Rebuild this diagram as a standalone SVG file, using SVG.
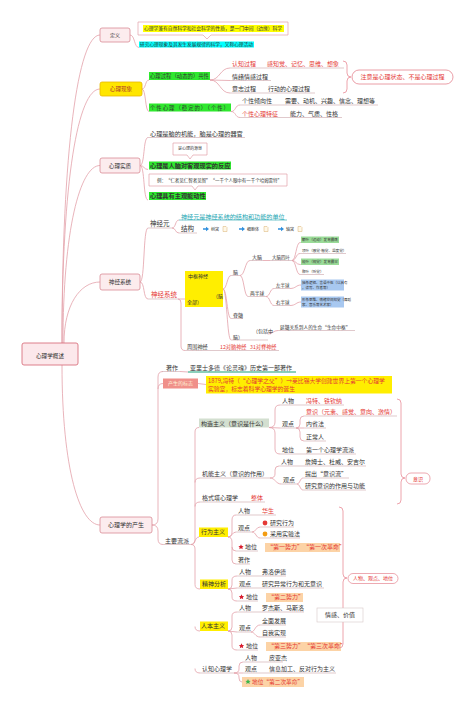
<svg xmlns="http://www.w3.org/2000/svg" width="474" height="708" viewBox="0 0 474 708">
<style>
text{font-family:"Noto Sans CJK SC","Noto Sans",sans-serif;fill:#333;}
.c{fill:none;stroke:#e3a1a9;stroke-width:0.8}
.u{fill:none;stroke:#d3b2b6;stroke-width:0.7}
.box{fill:#fcecee;stroke:#d98a94;stroke-width:0.8}
.red{fill:#e53935}
.f6{font-size:6px}
.f5{font-size:5px}
.f4{font-size:4px}
.hy{fill:#ffee00}
.hg{fill:#2ee82e}
.hl{fill:#9adb98}
.hb{fill:#a8c8f0}
.ho{fill:#fcd3a6}
.br{fill:none;stroke:#e88d98;stroke-width:0.8}
.callout{fill:#fff;stroke:#e3a1a9;stroke-width:0.7}
.arr{fill:#2f8fdd}
.doc{fill:#fff8e8;stroke:#d8b070;stroke-width:0.5}
</style>
<rect width="474" height="708" fill="#fff"/>

<g id="connectors">
<path class="c" d="M62 343C62 150 78 35 100 35"/>
<path class="c" d="M62 343C62 180 78 89 100 89"/>
<path class="c" d="M63 343C63 230 80 165.5 100 165.5"/>
<path class="c" d="M64 343C64 305 80 282 100 282"/>
<path class="c" d="M62 365C62 470 80 525 100 525"/>
<path class="c" d="M130 35C135 35 134 47.5 139 47.5"/>
<path class="c" d="M142 89C146 89 145 80 149 80M142 89C146 89 145 111.5 149 111.5"/>
<path class="c" d="M210 80C220 80 220 68 230 68M210 80L230 80.5M210 80C220 80 220 93 230 93"/>
<path class="c" d="M231 111.5C236 111.5 235 105 240 105M231 111.5C236 111.5 235 117.5 240 117.5"/>
<path class="c" d="M140 165.5C145 165.5 143 137.5 148 137.5M140 165.5C144 165.5 144 169.5 148 169.5M140 165.5C145 165.5 143 200 148 200"/>
<path class="c" d="M140 282C145 282 143 228 148 228M140 282C145 282 143 299 148 299"/>
<path class="c" d="M172 228C176 228 175 220 179 220M172 228C176 228 175 233 179 233"/>
<path class="c" d="M178 299L185 299M178 299Q181 299 181 303L181 346Q181 350.5 185 350.5"/>
<path class="c" d="M223 289C227 289 227 275.5 231 275.5M223 289C227 289 227 318.5 231 318.5M223 289C227 289 227 340 231 340"/>
<path class="c" d="M240 275.5C245 275.5 245 260.5 250 260.5M240 275.5C244 275.5 244 296.5 248 296.5M263 260.5L270 260.5"/>
<path class="c" d="M292 260.5C296 260.5 296 242.5 300 242.5M292 260.5C296 260.5 296 253.5 300 253.5M292 260.5C296 260.5 296 264.5 300 264.5M292 260.5C296 260.5 296 274.5 300 274.5"/>
<path class="c" d="M266 296.5C270 296.5 270 288.5 274 288.5M266 296.5C270 296.5 270 305.5 274 305.5M290 288.5C296 288.5 296 285 301 285M290 305.5C296 305.5 296 302 301 302"/>
<path class="c" d="M268 334C273 334 273 330.5 278 330.5"/>
<path class="c" d="M152 525Q158 525 158 519L158 377Q158 371.5 163 371.5M158 389Q158 383.5 163 383.5M152 525Q158 525 158 531L158 539Q158 544.5 163 544.5M180 371.5L188 372M198 383.5L206 384.5"/>
<path class="c" d="M191 544.5Q195 544.5 195 540L195 432Q195 427.5 199 427.5M195 482.5Q195 478 200 478M195 506.5Q195 502 200 502M191 544.5C195 544.5 195 537 199 537M191 544.5Q195 544.5 195 549L195 584.5Q195 589 200 589M195 626.5Q195 631 200 631M195 668.5Q195 673 200 673"/>
<path class="c" d="M269 427.5Q275 427.5 275 422L275 410Q275 405 280 405M269 427.5L280 428M269 427.5Q275 427.5 275 433L275 449Q275 454 280 454"/>
<path class="c" d="M296 428Q300 428 300 424L300 420Q300 416 304 416M296 428L304 428M296 428Q300 428 300 432L300 437Q300 441 304 441"/>
<path class="c" d="M270 478Q275 478 275 474L275 470Q275 466 279 466M270 478C275 478 276 484 281 484M297 484C300 484 300 478 303 478M297 484C300 484 300 490 303 490"/>
<path class="c" d="M228 537Q232 537 232 532L232 520Q232 515 236 515M228 537C232 537 232 532 236 532M228 537Q232 537 232 542L232 547Q232 551 236 551M232 547L232 560Q232 564 236 564M252 532C256 532 256 527 260 527M252 532C256 532 256 538 260 538"/>
<path class="c" d="M228 589Q232 589 232 585L232 580Q232 576 237 576M228 589L237 588M228 589Q232 589 232 593L232 597Q232 601 237 601"/>
<path class="c" d="M228 631Q232 631 232 627L232 616Q232 612 237 612M228 631L237 632M228 631Q232 631 232 635L232 646Q232 650 237 650M251 632C255 632 255 625 260 625M251 632C255 632 255 637 260 637"/>
<path class="c" d="M234 673Q239 673 239 669L239 666Q239 662 243 662M234 673L243 673M234 673Q239 673 239 677L239 678Q239 682 242 682"/>
</g>

<g id="root">
<rect x="22" y="343" width="56" height="22" rx="2" fill="#fce8eb" stroke="#d9737f" stroke-width="0.9"/>
<text x="50" y="357.5" font-size="5.6" text-anchor="middle">心理学概述</text>
</g>

<g id="n-dingyi">
<rect x="100" y="28" width="30" height="14" rx="2" class="box"/>
<text x="115" y="36.8" class="f5" text-anchor="middle">定义</text>
<path class="callout" d="M138 22H288V35H211L207 39L203 35H138Z"/>
<rect x="143" y="25" width="141" height="7" fill="#ffff00"/>
<text x="144" y="30.3" class="f5" textLength="138" lengthAdjust="spacingAndGlyphs">心理学兼有自然科学和社会科学的性质，是一门中间（边缘）科学</text>
<rect x="139" y="41.5" width="115" height="6" fill="#00ffff"/>
<text x="140" y="46.3" font-size="4.8" textLength="113" lengthAdjust="spacingAndGlyphs">研究心理现象及其发生发展规律的科学，又称心理活动</text>
</g>

<g id="n-xianxiang">
<rect x="100" y="82" width="42" height="14" rx="2" fill="#ffe600" stroke="#e8b800" stroke-width="0.8"/>
<text x="121" y="91" font-size="5.6" text-anchor="middle" style="fill:#b03a2e">心理现象</text>
<rect x="149" y="72" width="61" height="8" class="hg"/>
<text x="150" y="77.9" font-size="5.4" textLength="59" lengthAdjust="spacingAndGlyphs">心理过程（动态的）共性</text>
<rect x="149" y="103.5" width="82" height="8" class="hg"/>
<text x="150" y="109.5" font-size="5.4" textLength="79">个性心理（稳定的）（个性）</text>
<path class="u" d="M230 68H344M230 80.5H271M230 93H315M240 105H378M240 117.5H342"/>
<text x="232" y="66.1" class="f6 red">认知过程</text>
<text x="267" y="66.1" class="f6 red">感知觉、记忆、思维、想象</text>
<text x="232" y="78.6" class="f6">情绪情感过程</text>
<text x="232" y="91.1" class="f6">意志过程</text>
<text x="268" y="91.1" class="f6">行动的心理过程</text>
<text x="242" y="103.1" class="f6">个性倾向性</text>
<text x="285" y="103.1" class="f6">需要、动机、兴趣、信念、理想等</text>
<text x="242" y="115.6" class="f6 red">个性心理特征</text>
<text x="290" y="115.6" class="f6">能力、气质、性格</text>
<path class="br" d="M343 61Q347 61 347 65L347 73Q347 77 351 77Q347 77 347 81L347 89Q347 93 343 93"/>
<rect x="352" y="70" width="101" height="14" rx="7" fill="#fff" stroke="#e58590" stroke-width="0.8"/>
<text x="402.5" y="79.1" class="f6 red" text-anchor="middle">注意是心理状态、不是心理过程</text>
</g>

<g id="n-shizhi">
<rect x="100" y="158" width="40" height="15" rx="2" class="box"/>
<text x="120" y="167.5" font-size="5.6" text-anchor="middle">心理实质</text>
<path class="u" d="M148 137.5H245"/>
<text x="150" y="135.7" font-size="6.2">心理是脑的机能，脑是心理的器官</text>
<path class="callout" d="M173 143H207V155H193L190 159L187 155H173Z"/>
<text x="190" y="150.4" class="f4" text-anchor="middle">是心理的源泉</text>
<rect x="149" y="161.5" width="82" height="8" class="hg"/>
<text x="150" y="167.7" font-size="6.2" font-weight="bold">心理是人脑对客观现实的反应</text>
<path class="callout" d="M149 174H287V186H198L195 190L192 186H149Z"/>
<text x="157" y="181.6" font-size="4.5" textLength="125" lengthAdjust="spacingAndGlyphs">例：“仁者见仁智者见智”“一千个人眼中有一千个哈姆雷特”</text>
<rect x="149" y="192" width="57" height="8" class="hg"/>
<text x="150" y="198.2" font-size="6.2" font-weight="bold">心理具有主观能动性</text>
</g>

<g id="n-shenjing">
<rect x="100" y="274" width="40" height="16" rx="2" class="box"/>
<text x="120" y="284" font-size="5.6" text-anchor="middle">神经系统</text>
<path class="u" d="M148 228H172M179 233H197"/>
<path fill="none" stroke="#3ab0b8" stroke-width="0.7" d="M179 220H287"/>
<text x="150" y="226.3" font-size="6.5">神经元</text>
<text x="181" y="218.6" font-size="6.1" style="fill:#22a6b3">神经元是神经系统的结构和功能的单位</text>
<text x="181" y="231.3" font-size="6.5">结构</text>
<path class="arr" d="M203 228.3h3v-1.6l3 2.3-3 2.3v-1.6h-3z"/>
<text x="211" y="230.5" class="f4">树突</text>
<path class="doc" d="M223 226.5h3l1 1v4h-4z"/>
<path class="arr" d="M239 228.3h3v-1.6l3 2.3-3 2.3v-1.6h-3z"/>
<text x="247" y="230.5" class="f4">细胞体</text>
<path class="doc" d="M264 226.5h3l1 1v4h-4z"/>
<path class="arr" d="M278 228.3h3v-1.6l3 2.3-3 2.3v-1.6h-3z"/>
<text x="286" y="230.5" class="f4">轴突</text>
<path class="doc" d="M298 226.5h3l1 1v4h-4z"/>
<path class="u" d="M148 299H178"/>
<text x="151" y="297.3" font-size="6.5" class="red">神经系统</text>
<rect x="185" y="271" width="38" height="36" class="hy"/>
<text x="188" y="277.8" class="f5">中枢神经</text>
<text x="213" y="297.8" class="f5">（脑</text>
<text x="187" y="303.8" class="f5">全部）</text>
<path class="u" d="M231 275.5H240M250 260.5H263M270 260.5H292M248 296.5H266M274 288.5H290M274 305.5H290M231 318.5H243M231 340H268M278 330.5H355M185 350.5H279"/>
<path class="u" d="M300 242.5H339M300 253.5H346M300 264.5H339M300 274.5H324"/>
<text x="233" y="273.8" class="f5">脑</text>
<text x="252" y="258.8" class="f5">大脑</text>
<text x="272" y="258.6" font-size="4.5">大脑四叶</text>
<rect x="301" y="236.5" width="38" height="6.5" class="hl"/>
<text x="302" y="241.3" font-size="3.6">额叶（运动）发育最晚</text>
<text x="302" y="252.3" font-size="3.6">顶叶（感觉-触觉、温度觉）</text>
<rect x="301" y="258.5" width="38" height="6.5" class="hl"/>
<text x="302" y="263.3" font-size="3.6">枕叶（视觉）发育最早</text>
<text x="302" y="273.3" font-size="3.6">颞叶（听觉）</text>
<text x="250" y="294.7" font-size="4.8">两半球</text>
<text x="276" y="286.6" font-size="4.5">左半球</text>
<text x="276" y="303.6" font-size="4.5">右半球</text>
<rect x="301" y="279.5" width="43" height="11" class="hb"/>
<text x="302" y="284.2" font-size="3.5">抽象逻辑、言语中枢（以具有</text>
<text x="302" y="289.4" font-size="3.5">，读写、作者等）</text>
<rect x="301" y="296.5" width="43" height="11" class="hb"/>
<text x="302" y="301.2" font-size="3.5">形象思维、情绪空间知觉（舞蹈</text>
<text x="302" y="306.4" font-size="3.5">家、音乐等艺术家）</text>
<text x="233" y="316.8" class="f5">脊髓</text>
<text x="253" y="332.8" class="f5">（包括中</text>
<text x="233" y="338.8" class="f5">脑）</text>
<text x="280" y="328.7" font-size="4.7">延髓关系到人的生命“生命中枢”</text>
<text x="187" y="348.8" font-size="5.2">周围神经</text>
<text x="220" y="348.8" font-size="5.2" class="red">12对脑神经</text>
<text x="250" y="348.8" font-size="5.2" class="red">31对脊神经</text>
</g>

<g id="n-chansheng">
<rect x="100" y="517" width="52" height="16" rx="2" class="box"/>
<text x="126" y="527.2" font-size="6" text-anchor="middle">心理学的产生</text>
<path class="u" d="M162 371.5H180"/>
<path fill="none" stroke="#19a078" stroke-width="1" d="M188 372H296"/>
<text x="166" y="370.1" class="f6">著作</text>
<text x="190" y="370.1" class="f6">亚里士多德《论灵魂》历史第一部著作</text>
<rect x="163" y="378.5" width="35" height="10" fill="#f0908a"/>
<text x="180.5" y="385.3" class="f5" text-anchor="middle" style="fill:#fff4dc">产生的标志</text>
<rect x="206" y="376" width="186" height="17.5" class="hy"/>
<text x="208" y="383" font-size="5.8" class="red">1879,冯特（“心理学之父”）→莱比锡大学创建世界上第一个心理学</text>
<text x="208" y="391" font-size="5.8" class="red">实验室，标志着科学心理学的诞生</text>
<path class="u" d="M163 544.5H191"/>
<text x="165" y="543.1" class="f6">主要流派</text>
</g>

<g id="n-gouzao">
<rect x="199" y="418.5" width="70" height="9" fill="#d3dfd0"/>
<text x="201" y="425.6" class="f6">构造主义（意识是什么）</text>
<path class="u" d="M280 405H344M280 428H296M304 416H397M304 428H326M304 441H326M280 454H356"/>
<text x="282" y="403.1" class="f6">人物</text>
<text x="306" y="403.1" class="f6 red">冯特、铁钦纳</text>
<text x="282" y="426.1" class="f6">观点</text>
<text x="306" y="414.1" class="f6 red">意识（元素、感觉、意向、激情）</text>
<text x="306" y="426.1" class="f6">内省法</text>
<text x="306" y="439.1" class="f6">正常人</text>
<text x="282" y="452.1" class="f6">地位</text>
<text x="306" y="452.1" class="f6">第一个心理学流派</text>
</g>

<g id="n-jineng">
<path class="u" d="M200 478H270M279 466H366M281 484H297M303 478H349M303 490H366"/>
<text x="202" y="476.1" class="f6">机能主义（意识的作用）</text>
<text x="281" y="464.1" class="f6">人物</text>
<text x="305" y="464.1" class="f6">詹姆士、杜威、安吉尔</text>
<text x="283" y="482.1" class="f6">观点</text>
<text x="305" y="476.1" class="f6">提出“意识流”</text>
<text x="305" y="488.1" class="f6">研究意识的作用与功能</text>
</g>
<g id="n-yishi">
<path class="br" d="M397 399Q401 399 401 403L401 474Q401 478 405 478Q401 478 401 482L401 500Q401 504 397 504"/>
<rect x="406" y="473" width="24" height="11" rx="5" fill="#fff" stroke="#e58590" stroke-width="0.7"/>
<text x="418" y="480.6" class="f5 red" text-anchor="middle">意识</text>
</g>

<g id="n-gestalt">
<path class="u" d="M200 502H265"/>
<text x="202" y="500.1" class="f6">格式塔心理学</text>
<text x="251" y="500.1" class="f6 red">整体</text>
</g>

<g id="n-xingwei">
<rect x="199" y="527.5" width="29" height="9.5" class="hy"/>
<text x="201" y="534.1" class="f6">行为主义</text>
<path class="u" d="M236 515H276M236 532H252M260 527H294M260 538H300M236 551H258M236 564H250"/>
<text x="238" y="513.1" class="f6">人物</text>
<text x="262" y="513.1" class="f6 red">华生</text>
<text x="238" y="530.1" class="f6">观点</text>
<circle cx="265" cy="523" r="2.4" fill="#e53935"/>
<text x="270" y="525.1" class="f6">研究行为</text>
<circle cx="265" cy="534" r="2.4" fill="#f39c12"/>
<text x="270" y="536.1" class="f6">采用实验法</text>
<path fill="#d81b2c" d="M241 544.3l0.8 1.7 1.8 0.2-1.3 1.2 0.4 1.8-1.7-0.9-1.7 0.9 0.4-1.8-1.3-1.2 1.8-0.2z"/>
<text x="245" y="549.1" class="f6">地位</text>
<rect x="265" y="543" width="75" height="9" class="ho"/>
<text x="267" y="549.3" class="f6 red">“第一势力”“第一次革命”</text>
<text x="238" y="562.1" class="f6">著作</text>
</g>

<g id="n-jingshen">
<rect x="200" y="579.5" width="28" height="9.5" class="hy"/>
<text x="202" y="586.1" class="f6">精神分析</text>
<path class="u" d="M237 576H286M237 588H324M237 601H258"/>
<text x="239" y="574.1" class="f6">人物</text>
<text x="262" y="574.1" class="f6">弗洛伊德</text>
<text x="239" y="586.1" class="f6">观点</text>
<text x="262" y="586.1" class="f6">研究异常行为和无意识</text>
<path fill="#d81b2c" d="M241.5 594.3l0.8 1.7 1.8 0.2-1.3 1.2 0.4 1.8-1.7-0.9-1.7 0.9 0.4-1.8-1.3-1.2 1.8-0.2z"/>
<text x="246" y="599.1" class="f6">地位</text>
<rect x="266" y="593" width="37" height="9" class="ho"/>
<text x="268" y="599.3" class="f6 red">“第二势力”</text>
</g>

<g id="n-renben">
<rect x="200" y="621.5" width="28" height="9.5" class="hy"/>
<text x="201" y="628.1" class="f6">人本主义</text>
<path class="u" d="M237 612H304M237 632H251M260 625H286M260 637H286M237 650H258"/>
<text x="239" y="610.1" class="f6">人物</text>
<text x="262" y="610.1" class="f6">罗杰斯、马斯洛</text>
<text x="239" y="630.1" class="f6">观点</text>
<text x="262" y="623.1" class="f6">全面发展</text>
<text x="262" y="635.1" class="f6">自我实现</text>
<path fill="#d81b2c" d="M241.5 643.3l0.8 1.7 1.8 0.2-1.3 1.2 0.4 1.8-1.7-0.9-1.7 0.9 0.4-1.8-1.3-1.2 1.8-0.2z"/>
<text x="246" y="648.1" class="f6">地位</text>
<rect x="266" y="642" width="75" height="9" class="ho"/>
<text x="268" y="648.3" class="f6 red">“第三势力”“第三次革命”</text>
</g>

<g id="n-renzhi">
<path class="u" d="M200 673H234M243 662H283M243 673H336"/>
<text x="202" y="671.1" class="f6">认知心理学</text>
<text x="245" y="660.1" class="f6">人物</text>
<text x="269" y="660.1" class="f6">皮亚杰</text>
<text x="245" y="671.1" class="f6">观点</text>
<text x="269" y="671.1" class="f6">信息加工、反对行为主义</text>
<rect x="242" y="677" width="62" height="10" class="ho"/>
<path fill="#3bb54a" d="M248 679l0.8 1.7 1.8 0.2-1.3 1.2 0.4 1.8-1.7-0.9-1.7 0.9 0.4-1.8-1.3-1.2 1.8-0.2z"/>
<text x="252" y="684.1" font-size="5.7" class="red">地位“第二次革命”</text>
</g>

<g id="n-summary">
<path class="br" d="M339 507Q343 507 343 511L343 574Q343 578 347 578Q343 578 343 582L343 644Q343 648 339 648"/>
<rect x="348" y="573.5" width="50" height="10" rx="5" fill="#fff" stroke="#e58590" stroke-width="0.7"/>
<text x="373" y="580.3" class="f5 red" text-anchor="middle">人物、观点、地位</text>
<rect x="317" y="608" width="46" height="14" fill="#fff" stroke="#d8c8c8" stroke-width="0.6"/>
<text x="340" y="617.2" class="f6" text-anchor="middle">情感、价值</text>
</g>
</svg>
